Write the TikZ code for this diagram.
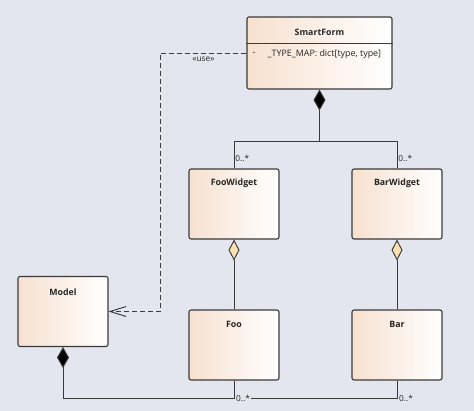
\documentclass[tikz,border=0pt]{standalone}
\usepackage{fontspec}
\setmainfont{Open Sans}
\usepackage{xcolor}
\usetikzlibrary{arrows.meta,positioning}

\definecolor{canvas}{HTML}{E3E6EE}
\definecolor{peach}{HTML}{F7E1D0}
\definecolor{edge}{HTML}{3A3A3A}
\definecolor{aggfill}{HTML}{FBE0B0}

\begin{document}
\begin{tikzpicture}[
  x=1pt, y=1pt,
  every node/.style={font=\fontsize{8.9}{11}\selectfont, text=black!85},
  cls/.style={draw=edge, line width=1.1pt, rounded corners=2pt, left color=peach, right color=white, minimum width=90pt, minimum height=70pt},
  title/.style={font=\fontsize{8.8}{11}\selectfont\bfseries},
  rel/.style={draw=edge, line width=0.95pt},
  comp/.style={rel, {Diamond[length=21pt, width=12pt, fill=black]}-},
  agg/.style={rel, {Diamond[length=21pt, width=11pt, fill=aggfill]}-},
  dep/.style={rel, dash pattern=on 5pt off 3pt, -{Straight Barb[length=16pt, width=10pt]}},
  mult/.style={font=\fontsize{8.3}{10}\selectfont, inner sep=1pt}
]
\fill[canvas] (0,0) rectangle (474,411);
\useasboundingbox (0,0) rectangle (474,411);

% classes
\node[cls, minimum width=145pt, minimum height=72pt] (sf) at (319.5,358) {};
\node[title] (sf-t) at ([yshift=-16pt]sf.north) {SmartForm};
\draw[rel] ([yshift=-27pt]sf.north west) -- ([yshift=-27pt]sf.north east);
\node[anchor=west, inner sep=0pt] (sf-vis) at ([xshift=6pt, yshift=-38pt]sf.north west) {-};
\node[anchor=west, inner sep=0pt] (sf-attr) at ([xshift=21pt, yshift=-38pt]sf.north west) {\_TYPE\_MAP: dict[type, type]};

\node[cls] (foow) at (234,207) {};
\node[title] (foow-t) at ([yshift=-15pt]foow.north) {FooWidget};
\node[cls] (barw) at (397,207) {};
\node[title] (barw-t) at ([yshift=-15pt]barw.north) {BarWidget};

\node[cls] (foo) at (234,66) {};
\node[title] (foo-t) at ([yshift=-15pt]foo.north) {Foo};
\node[cls] (bar) at (397,66) {};
\node[title] (bar-t) at ([yshift=-15pt]bar.north) {Bar};

\node[cls] (model) at (63,99.5) {};
\node[title] (model-t) at ([yshift=-16pt]model.north) {Model};

% SmartForm owns the widgets
\coordinate (wj) at (319.5,270);
\draw[comp] (sf.south) -- (wj);
\draw[rel] (wj) -| (foow.north) node[mult, anchor=south west, yshift=5pt] {0..*};
\draw[rel] (wj) -| (barw.north) node[mult, anchor=south west, yshift=5pt] {0..*};

% widgets wrap the data classes
\draw[agg] (foow.south) -- (foo.north);
\draw[agg] (barw.south) -- (bar.north);

% Model owns Foo and Bar
\coordinate (mj) at (63,13);
\draw[comp] (model.south) -- (mj) -| (foo.south);
\draw[rel] (foo.south |- mj) -| (bar.south);
\node[mult, fill=canvas, anchor=west, xshift=1pt] (foo-m) at (foo.south |- mj) {0..*};
\node[mult, anchor=west, xshift=1pt] (bar-m) at (bar.south |- mj) {0..*};

% dependency
\draw[dep] (sf.west) -- ++(-86,0) node[midway, below=3pt, mult] {«use»} |- (model.east);
\end{tikzpicture}
\end{document}
